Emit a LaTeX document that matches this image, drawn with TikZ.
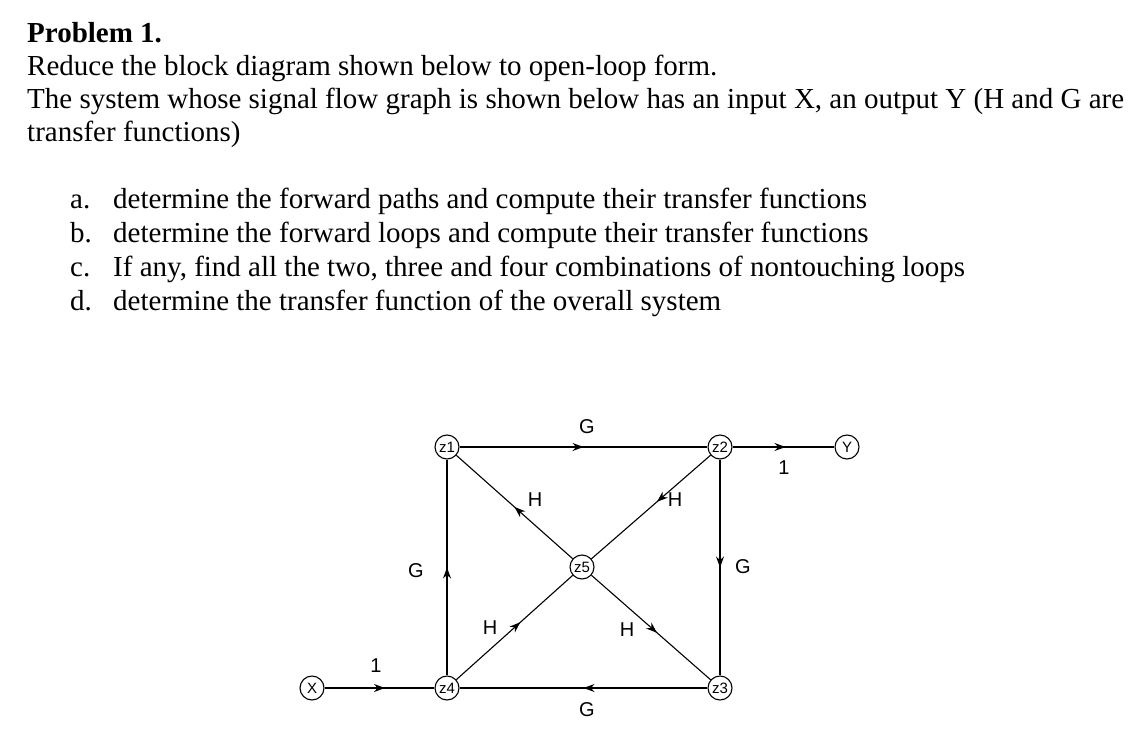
\documentclass[tikz,border=0pt]{standalone}
\usepackage{fontspec}
\setmainfont{Liberation Serif}
\newfontfamily\arialf{Liberation Sans}
\usetikzlibrary{decorations.markings,arrows.meta}
\begin{document}
\begin{tikzpicture}[x=1pt,y=-1pt,
  nd/.style={circle,draw,line width=1.1pt,minimum size=24pt,inner sep=0pt,font=\arialf\fontsize{15}{15}\selectfont},
  edge/.style={line width=1.1pt,postaction={decorate},decoration={markings,mark=at position #1 with {\arrow{Stealth[length=11pt,width=8pt]}}}},
  edge/.default=0.5,
  lbl/.style={font=\arialf\fontsize{20}{20}\selectfont},
  tx/.style={anchor=base west,inner sep=0pt,font=\fontsize{29}{29}\selectfont}]
\useasboundingbox (0,0) rectangle (1147,752);
\node[tx] (t1) at (27,42) {\bfseries Problem 1.};
\node[tx] (t2) at (27,75) {Reduce the block diagram shown below to open-loop form.};
\node[tx] (t3) at (27,108) {The system whose signal flow graph is shown below has an input X, an output Y (H and G are};
\node[tx] (t4) at (27,141) {transfer functions)};
\node[tx] (a1) at (70,208) {a.};
\node[tx] (a2) at (113,208) {determine the forward paths and compute their transfer functions};
\node[tx] (b1) at (70,242) {b.};
\node[tx] (b2) at (113,242) {determine the forward loops and compute their transfer functions};
\node[tx] (c1) at (70,276) {c.};
\node[tx] (c2) at (113,276) {If any, find all the two, three and four combinations of nontouching loops};
\node[tx] (d1) at (70,310) {d.};
\node[tx] (d2) at (113,310) {determine the transfer function of the overall system};

\node[nd] (X) at (312,688) {X};
\node[nd] (z4) at (447,688) {z4};
\node[nd] (z3) at (720,688) {z3};
\node[nd] (z1) at (447,447) {z1};
\node[nd] (z2) at (720,447) {z2};
\node[nd] (Y) at (847,447) {Y};
\node[nd] (z5) at (582,567) {z5};

\draw[edge=0.55] (X) -- (z4);
\draw[edge=0.52] (z2) -- (Y);
\draw[edge] (z1) -- (z2);
\draw[edge] (z4) -- (z1);
\draw[edge] (z2) -- (z3);
\draw[edge] (z3) -- (z4);
\draw[edge=0.55] (z4) -- (z5);
\draw[edge=0.5] (z5) -- (z1);
\draw[edge=0.45] (z2) -- (z5);
\draw[edge=0.55] (z5) -- (z3);

\node[lbl] (lx) at (376,666) {1};
\node[lbl] (ly) at (784,468) {1};
\node[lbl] (g1) at (587,427) {G};
\node[lbl] (g2) at (416,571) {G};
\node[lbl] (g3) at (743,567) {G};
\node[lbl] (g4) at (587,710) {G};
\node[lbl] (h1) at (535,500) {H};
\node[lbl] (h2) at (675,500) {H};
\node[lbl] (h3) at (490,628) {H};
\node[lbl] (h4) at (627,630) {H};
\end{tikzpicture}
\end{document}
